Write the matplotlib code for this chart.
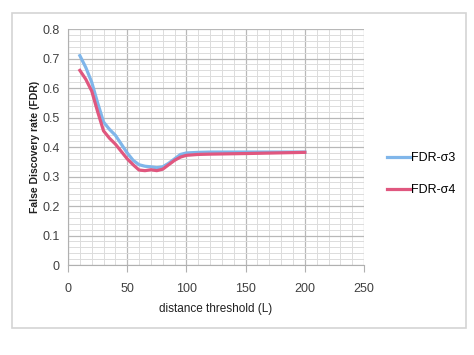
import matplotlib.pyplot as plt
from matplotlib.patches import Rectangle
from matplotlib.ticker import MultipleLocator

# data
dist = [10, 15, 20, 25, 30, 35, 40, 45, 50, 55, 60, 65, 70, 75, 80, 85, 90, 95, 100, 110, 120, 150, 200]
fdr_s3 = [0.71, 0.67, 0.62, 0.55, 0.485, 0.46, 0.44, 0.41, 0.38, 0.355, 0.34, 0.335, 0.333, 0.33, 0.333,
          0.345, 0.36, 0.375, 0.38, 0.382, 0.383, 0.383, 0.383]
fdr_s4 = [0.66, 0.63, 0.59, 0.52, 0.455, 0.43, 0.41, 0.385, 0.36, 0.34, 0.322, 0.32, 0.323, 0.32, 0.325,
          0.34, 0.355, 0.366, 0.372, 0.375, 0.376, 0.378, 0.382]

plt.rcParams['font.family'] = ['Liberation Sans', 'DejaVu Sans']

fig = plt.figure(figsize=(4.74, 3.55), dpi=100)
fig.patches.append(Rectangle((12 / 474, 1 - 328 / 355), 454 / 474, 315 / 355,
                             transform=fig.transFigure, fill=False, edgecolor='#d4d4d4', lw=1.2))

ax = fig.add_axes([0.1435, 0.2535, 0.6245, 0.6645])
ax.plot(dist, fdr_s3, color='#80b6ea', lw=2.3, label='FDR-σ3')
ax.plot(dist, fdr_s4, color='#e0577f', lw=2.3, label='FDR-σ4')

ax.set_xlim(0, 250)
ax.set_ylim(0, 0.8)
ax.xaxis.set_major_locator(MultipleLocator(50))
ax.xaxis.set_minor_locator(MultipleLocator(10))
ax.yaxis.set_major_locator(MultipleLocator(0.1))
ax.yaxis.set_minor_locator(MultipleLocator(0.02))
ax.set_yticks([0, 0.1, 0.2, 0.3, 0.4, 0.5, 0.6, 0.7, 0.8])
ax.set_yticklabels(['0', '0.1', '0.2', '0.3', '0.4', '0.5', '0.6', '0.7', '0.8'])
ax.grid(which='major', color='#b8b8b8', lw=0.9)
ax.grid(which='minor', color='#dcdcdc', lw=0.7)
ax.set_axisbelow(True)
for s in ['top', 'right']:
    ax.spines[s].set_visible(False)
for s in ['left', 'bottom']:
    ax.spines[s].set_color('#b0b0b0')
ax.tick_params(which='major', axis='x', length=5, color='#b0b0b0', labelsize=9, labelcolor='#404040', pad=8)
ax.tick_params(which='major', axis='y', length=0, labelsize=9, labelcolor='#404040', pad=6)
ax.tick_params(which='minor', length=0)

ax.set_xlabel('distance threshold (L)', fontsize=8.5, color='#202020', labelpad=6)
ax.set_ylabel('False Discovery rate (FDR)', fontsize=7.5, fontweight='bold', color='#202020', labelpad=2)

ax.legend(loc='center left', bbox_to_anchor=(1.04, 0.385), frameon=False, fontsize=9,
          handlelength=1.8, handletextpad=0.1, labelspacing=1.6)

fig.savefig('out.png', dpi=100)
